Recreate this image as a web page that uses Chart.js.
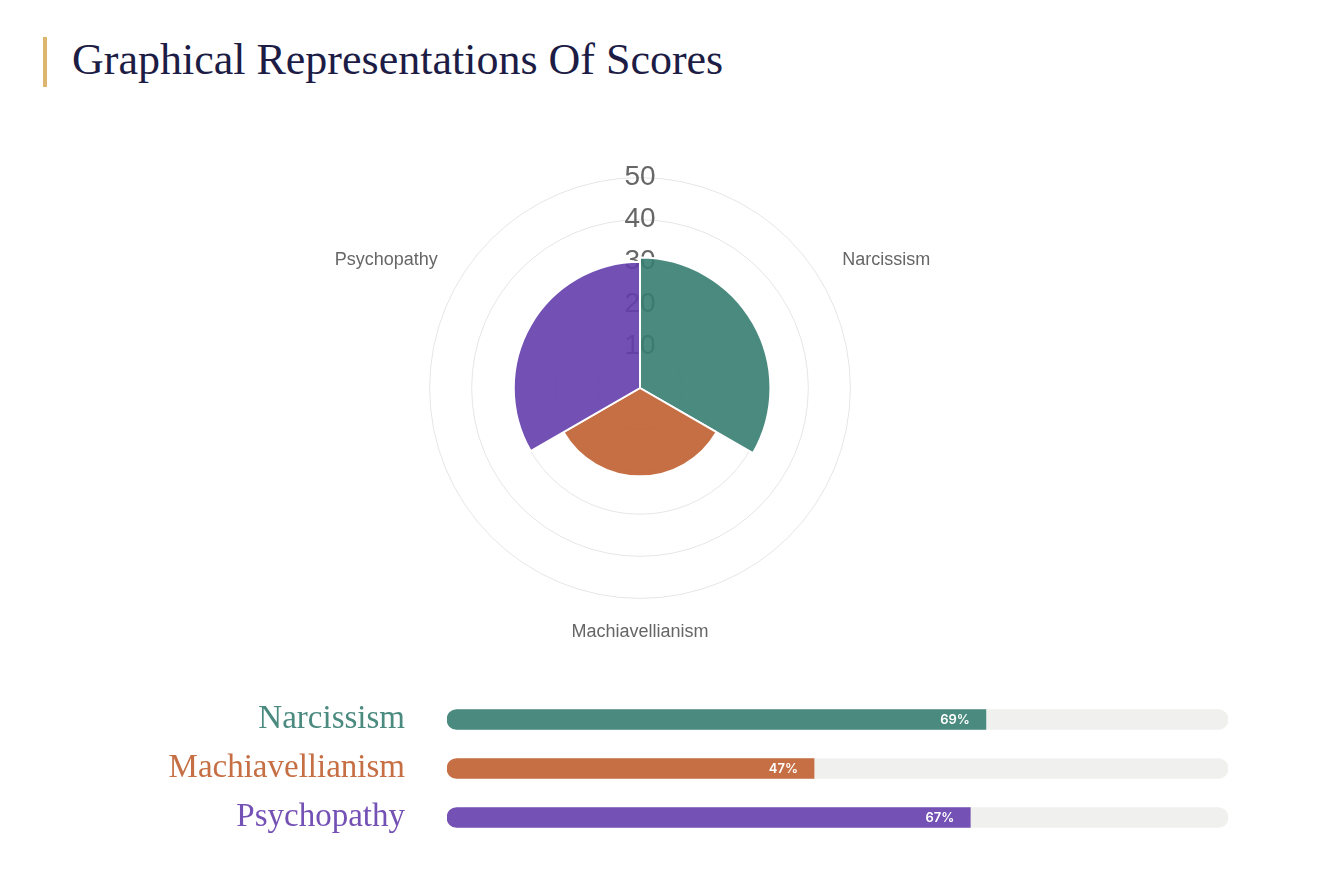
<!DOCTYPE html>
<html>
<head>
<meta charset="utf-8">
<script src="https://cdn.jsdelivr.net/npm/chart.js@4/dist/chart.umd.min.js"></script>
<style>
  html, body { margin: 0; padding: 0; background: #ffffff; }
  body { width: 1320px; height: 880px; position: relative; overflow: hidden; }
  #titleBar { position: absolute; left: 43px; top: 37px; width: 4px; height: 50px; background: #dcb56f; }
  #title { position: absolute; left: 72px; top: 34px; margin: 0; font-family: "Liberation Serif", "DejaVu Serif", serif; font-weight: normal; font-size: 44px; line-height: 52px; color: #1c1c45; white-space: nowrap; }
  #polarBox { position: absolute; left: 240px; top: 148px; width: 800px; height: 510px; }
  #barBox { position: absolute; left: 0px; top: 695px; width: 1228px; height: 147px; }
</style>
</head>
<body>
<div id="titleBar"></div>
<h1 id="title">Graphical Representations Of Scores</h1>
<div id="polarBox"><canvas id="polar"></canvas></div>
<div id="barBox"><canvas id="bars"></canvas></div>
<script>
// ---- data ----
const categories = ['Narcissism', 'Machiavellianism', 'Psychopathy'];
const scores = [31, 21, 30];
const percentages = [69, 47, 67];
const trackValues = [100, 100, 100];
const radialTicks = [10, 20, 30, 40, 50];
const percentLabels = ['69%', '47%', '67%'];

// ---- styles ----
const fillColors = ['rgba(54,125,113,0.9)', 'rgba(192,95,48,0.9)', 'rgba(100,62,172,0.9)'];
const solidColors = ['#4a8a7f', '#c66f45', '#7451b4'];

new Chart(document.getElementById('polar'), {
  type: 'polarArea',
  data: {
    labels: categories,
    datasets: [{
      data: scores,
      backgroundColor: fillColors,
      borderColor: '#ffffff',
      borderWidth: 2
    }]
  },
  options: {
    responsive: true,
    maintainAspectRatio: false,
    animation: false,
    layout: { padding: 0 },
    plugins: { legend: { display: false }, tooltip: { enabled: false } },
    scales: {
      r: {
        min: 0,
        max: radialTicks[radialTicks.length - 1],
        beginAtZero: true,
        ticks: {
          stepSize: radialTicks[0],
          color: '#666666',
          showLabelBackdrop: false,
          font: { family: '"Liberation Sans", Arial, sans-serif', size: 28 }
        },
        grid: { color: 'rgba(0,0,0,0.1)' },
        pointLabels: {
          display: true,
          centerPointLabels: true,
          padding: 7,
          color: '#666666',
          font: { family: '"Liberation Sans", Arial, sans-serif', size: 18 }
        }
      }
    }
  }
});

const percentPlugin = {
  id: 'percentText',
  afterDatasetsDraw(chart) {
    const ctx = chart.ctx;
    const meta = chart.getDatasetMeta(0);
    ctx.save();
    ctx.fillStyle = '#ffffff';
    ctx.font = '600 13px Inter, "Liberation Sans", sans-serif';
    ctx.textAlign = 'right';
    ctx.textBaseline = 'middle';
    meta.data.forEach((bar, i) => {
      ctx.fillText(percentLabels[i], bar.x - 16, bar.y + 1);
    });
    ctx.restore();
  }
};

new Chart(document.getElementById('bars'), {
  type: 'bar',
  data: {
    labels: categories,
    datasets: [
      {
        data: percentages,
        backgroundColor: solidColors,
        borderSkipped: false,
        borderRadius: { topLeft: 10, bottomLeft: 10, topRight: 0, bottomRight: 0 },
        barThickness: 20,
        grouped: false
      },
      {
        data: trackValues,
        backgroundColor: '#f0f0ee',
        borderSkipped: false,
        borderRadius: 10,
        barThickness: 20,
        grouped: false
      }
    ]
  },
  options: {
    indexAxis: 'y',
    responsive: true,
    maintainAspectRatio: false,
    animation: false,
    layout: { padding: 0 },
    plugins: { legend: { display: false }, tooltip: { enabled: false } },
    scales: {
      x: { display: false, min: 0, max: 100 },
      y: {
        grid: { display: false, drawTicks: false },
        border: { display: false },
        afterFit(scale) {
          scale.width = 447;
          scale.paddingTop = 0;
          scale.paddingBottom = 0;
        },
        ticks: {
          padding: 42,
          color: (c) => solidColors[c.index],
          font: { family: '"Liberation Serif", "DejaVu Serif", serif', size: 33 }
        }
      }
    }
  },
  plugins: [percentPlugin]
});
</script>
</body>
</html>
